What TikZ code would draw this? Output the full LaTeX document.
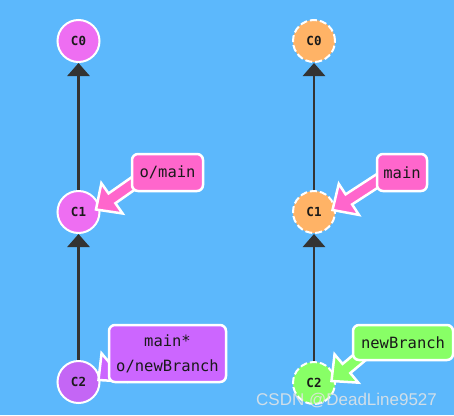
\documentclass[tikz,border=0pt]{standalone}
\usepackage{fontspec}
\setmainfont{DejaVu Sans Mono}
\newfontfamily\wmfont{Liberation Sans}
\usetikzlibrary{calc,arrows.meta}
\definecolor{bgblue}{HTML}{5CB8FC}
\definecolor{cpink}{HTML}{EE6EF2}
\definecolor{cpurple}{HTML}{C466F5}
\definecolor{corange}{HTML}{FFB366}
\definecolor{cgreen}{HTML}{88FF66}
\definecolor{lpink}{HTML}{FF66CC}
\definecolor{lpurple}{HTML}{CC66FF}
\definecolor{lgreen}{HTML}{88FF66}
\definecolor{edgecol}{HTML}{333333}
\definecolor{txt}{HTML}{1A1A1A}
\tikzset{
  commit/.style={circle, minimum size=42pt, inner sep=0pt, line width=2pt, draw=white,
    font=\fontsize{12.5}{12.5}\selectfont\bfseries, text=txt},
  ghost/.style={commit, dash pattern=on 7pt off 3pt},
  lbl/.style={rounded corners=6pt, draw=white, line width=2.5pt, text=txt,
    font=\fontsize{15.5}{25}\selectfont, inner xsep=6pt, inner ysep=6pt, align=center},
  edge/.style={draw=edgecol, line width=2.8pt, -{Triangle[width=22pt,length=13pt]}},
  fatarrow/.style={draw=white, line width=2.5pt, line join=miter, miter limit=4}
}
% #1 tip coordinate, #2 angle, #3 length, #4 fill colour
\newcommand{\fatarr}[4]{%
  \begin{scope}[shift={(#1)}, rotate=#2]
  \filldraw[fatarrow, fill=#4] (0,0) -- (19.5,-18.5) -- (19.5,-6) -- (#3,-6)
     -- (#3,6) -- (19.5,6) -- (19.5,18.5) -- cycle;
  \end{scope}
}
\begin{document}
\begin{tikzpicture}[x=1pt,y=-1pt]
\fill[bgblue] (0,0) rectangle (454,415);
\useasboundingbox (0,0) rectangle (454,415);
% left
\node[commit, fill=cpink] (lc0) at (78.5,41) {C0};
\node[commit, fill=cpink] (lc1) at (78.5,212) {C1};
\node[commit, fill=cpurple] (lc2) at (78.5,382) {C2};
% right
\node[ghost, fill=corange] (rc0) at (314,41) {C0};
\node[ghost, fill=corange] (rc1) at (314,212) {C1};
\node[ghost, fill=cgreen] (rc2) at (314,383) {C2};
% edges
\draw[edge] (lc1) -- (lc0);
\draw[edge] (lc2) -- (lc1);
\draw[edge] (rc1) -- (rc0);
\draw[edge] (rc2) -- (rc1);
% fat arrows
\coordinate (t1) at ($(lc1.center)+(17.5,-2.5)$);
\fatarr{t1}{35}{58}{lpink}
\coordinate (t2) at ($(lc2.center)+(20,-2)$);
\fatarr{t2}{40}{48}{lpurple}
\coordinate (t3) at ($(rc1.center)+(18.5,-2)$);
\fatarr{t3}{33}{60}{lpink}
\coordinate (t4) at ($(rc2.center)+(17.5,-2)$);
\fatarr{t4}{40}{48}{lgreen}
% labels
\node[lbl, fill=lpink, minimum width=71pt, minimum height=37pt] (omain) at (167.5,172.5) {o/main};
\node[lbl, fill=lpurple, minimum width=117pt, minimum height=57pt] (mainstar) at (167.5,353.5) {main*\\o/newBranch};
\node[lbl, fill=lpink, minimum width=50pt, minimum height=37pt] (rmain) at (402,172.5) {main};
\node[lbl, fill=lgreen, minimum width=100pt, minimum height=35pt] (nb) at (403,342.5) {newBranch};
% watermark
\node[anchor=base west, inner sep=0pt, text=white!80!gray, opacity=0.85,
  font=\wmfont\fontsize{17}{17}\selectfont] (wm) at (256,405) {CSDN @DeadLine9527};
\end{tikzpicture}
\end{document}
